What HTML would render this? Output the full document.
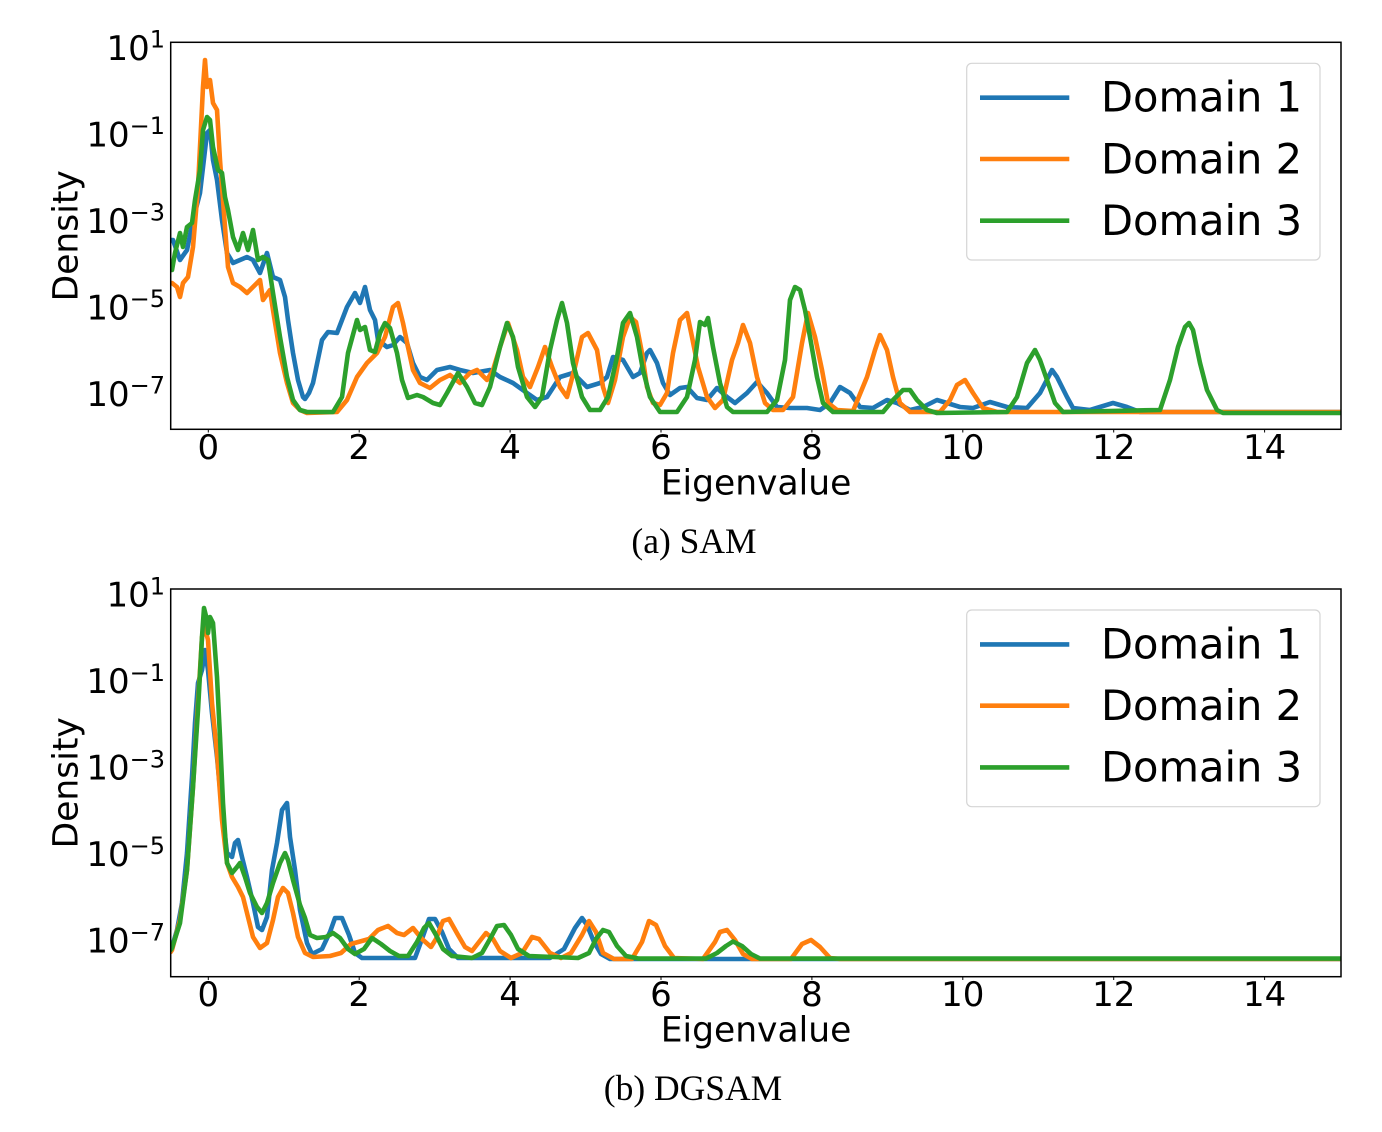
<!DOCTYPE html>
<html>
<head>
<meta charset="utf-8">
<style>
html,body{margin:0;padding:0;background:#fff;}
svg{display:block;}
.t{font-family:"DejaVu Sans","Liberation Sans",sans-serif;fill:#000;}
.cap{font-family:"Liberation Serif","DejaVu Serif",serif;fill:#000;}
.ln{fill:none;stroke-width:4.6;stroke-linejoin:round;stroke-linecap:round;}
</style>
</head>
<body>
<svg width="1382" height="1132" viewBox="0 0 1382 1132" xmlns="http://www.w3.org/2000/svg">
<rect x="0" y="0" width="1382" height="1132" fill="#fff"/>
<defs>
<clipPath id="c1"><rect x="170.7" y="42.3" width="1170.3" height="387"/></clipPath>
<clipPath id="c2"><rect x="170.7" y="589" width="1170.3" height="387.7"/></clipPath>
</defs>

<!-- ================= TOP PLOT ================= -->
<g clip-path="url(#c1)">
<polyline class="ln" stroke="#1f77b4" points="170.7,240 173,240 180,260 187,250 193,220 200,193 207,133 210,130 213,160 217,180 222,220 227,253 233,263 240,260 247,257 253,260 260,273 267,253 273,277 280,280 285,297 288,320 293,353 298,380 303,397 305,399 309,393 313,383 322,340 328,332 337,333 347,307 355,293 360,303 365,287 370,310 375,320 378,340 387,347 393,345 400,337 407,343 413,363 420,377 427,380 437,370 450,367 460,370 473,373 490,370 500,377 513,383 527,393 537,400 547,397 560,377 573,373 587,387 600,383 607,377 613,357 623,360 633,377 640,373 647,353 650,350 657,363 663,383 670,395 680,388 687,387 697,398 707,400 717,388 727,397 735,403 747,393 757,382 767,393 777,407 790,408 807,408 820,410 830,403 840,387 850,393 860,407 873,408 887,400 897,403 910,410 923,407 937,400 947,403 960,407 973,408 990,402 1007,407 1027,408 1040,393 1052,370 1057,377 1067,397 1073,408 1090,410 1113,403 1127,407 1140,412 1341,412"/>
<polyline class="ln" stroke="#ff7f0e" points="170.7,283 172,283 177,287 180,297 183,283 188,277 193,247 198,187 203,87 205,60 207,87 210,80 213,103 217,110 220,160 225,227 228,267 233,283 240,287 247,293 253,287 260,280 263,300 270,290 273,310 280,353 287,383 293,403 300,410 307,413 337,412 347,400 357,377 367,363 377,353 385,337 393,307 398,303 403,323 408,347 413,370 420,383 430,388 440,380 450,375 460,383 470,373 477,370 487,380 493,370 500,347 508,323 517,350 523,377 530,387 538,367 545,347 552,367 560,387 567,397 575,367 582,337 588,333 597,350 603,387 608,403 615,380 623,337 630,317 636,322 642,353 647,387 653,403 660,405 667,393 673,353 680,320 687,313 692,337 698,367 707,397 715,408 723,400 732,360 738,343 743,325 750,343 757,377 765,403 773,410 783,410 793,397 802,343 808,313 815,337 822,370 828,403 837,410 853,411 867,377 875,350 880,335 887,350 893,377 900,403 910,412 940,412 950,400 957,385 965,380 973,393 983,408 997,412 1341,412"/>
<polyline class="ln" stroke="#2ca02c" points="170.7,270 172,270 175,253 180,233 183,247 187,227 192,223 195,200 200,170 203,130 207,117 210,120 213,147 218,170 222,173 225,197 228,210 233,237 238,250 243,233 248,250 253,230 258,260 263,257 268,260 273,293 280,337 287,377 293,400 300,410 307,412 333,412 342,397 348,353 357,320 360,330 365,327 370,350 375,352 380,333 385,323 390,328 397,353 402,380 408,398 417,395 423,397 433,403 440,405 447,393 458,373 467,387 475,403 482,405 490,387 500,347 507,323 513,337 518,367 527,397 535,407 542,397 550,350 557,320 562,303 567,323 573,363 582,397 590,410 600,410 608,397 617,357 623,323 630,313 637,337 643,370 650,397 660,412 677,412 687,397 695,360 700,322 705,325 708,318 713,347 720,383 727,407 733,412 767,412 777,400 785,360 790,300 795,287 800,290 805,310 810,337 817,377 823,403 833,412 883,412 893,400 903,390 910,390 917,400 927,410 937,413 1007,412 1017,397 1027,363 1035,350 1040,360 1047,380 1055,403 1063,412 1160,410 1170,380 1178,347 1185,327 1189,323 1193,330 1200,363 1207,390 1217,410 1223,413 1341,413"/>
</g>
<rect x="170.7" y="42.3" width="1170.3" height="387" fill="none" stroke="#000" stroke-width="1.5"/>
<g stroke="#000" stroke-width="1">
<line x1="208.3" y1="429.3" x2="208.3" y2="432.5"/><line x1="359.2" y1="429.3" x2="359.2" y2="432.5"/><line x1="510.1" y1="429.3" x2="510.1" y2="432.5"/><line x1="661" y1="429.3" x2="661" y2="432.5"/><line x1="811.9" y1="429.3" x2="811.9" y2="432.5"/><line x1="962.8" y1="429.3" x2="962.8" y2="432.5"/><line x1="1113.7" y1="429.3" x2="1113.7" y2="432.5"/><line x1="1264.6" y1="429.3" x2="1264.6" y2="432.5"/>
</g>
<g class="t" font-size="34" text-anchor="middle">
<text x="208.3" y="459">0</text><text x="359.2" y="459">2</text><text x="510.1" y="459">4</text><text x="661" y="459">6</text><text x="811.9" y="459">8</text><text x="962.8" y="459">10</text><text x="1113.7" y="459">12</text><text x="1264.6" y="459">14</text>
</g>
<g class="t" font-size="34" text-anchor="end">
<text x="165" y="60">10<tspan font-size="24" dy="-12.3">1</tspan></text>
<text x="165" y="146.5">10<tspan font-size="24" dy="-12.3">−1</tspan></text>
<text x="165" y="233">10<tspan font-size="24" dy="-12.3">−3</tspan></text>
<text x="165" y="319.5">10<tspan font-size="24" dy="-12.3">−5</tspan></text>
<text x="165" y="406">10<tspan font-size="24" dy="-12.3">−7</tspan></text>
</g>
<text class="t" font-size="34.5" text-anchor="middle" x="756" y="494.5">Eigenvalue</text>
<text class="t" font-size="34.5" text-anchor="middle" transform="translate(77.7,235.8) rotate(-90)" x="0" y="0">Density</text>
<rect x="966.7" y="63.3" width="353.3" height="196.7" rx="5" ry="5" fill="#fff" fill-opacity="0.8" stroke="#d5d5d5" stroke-width="1.2"/>
<line x1="980" y1="97.7" x2="1069.3" y2="97.7" stroke="#1f77b4" stroke-width="4.6"/>
<line x1="980" y1="159" x2="1069.3" y2="159" stroke="#ff7f0e" stroke-width="4.6"/>
<line x1="980" y1="220.7" x2="1069.3" y2="220.7" stroke="#2ca02c" stroke-width="4.6"/>
<g class="t" font-size="41.6">
<text x="1101" y="111.7">Domain 1</text>
<text x="1101" y="173.3">Domain 2</text>
<text x="1101" y="235">Domain 3</text>
</g>
<text class="cap" font-size="35.5" text-anchor="middle" x="694" y="553">(a) SAM</text>

<!-- ================= BOTTOM PLOT ================= -->
<g clip-path="url(#c2)">
<polyline class="ln" stroke="#1f77b4" points="170.7,950 172,947 177,930 182,903 187,853 192,777 195,723 198,683 202,670 205,650 208,670 212,713 217,757 222,810 227,853 232,857 235,843 238,840 242,857 247,877 253,903 258,927 262,930 267,917 272,870 277,843 282,810 287,803 290,837 295,870 300,910 307,943 312,954 322,949 330,932 335,918 342,918 349,935 355,953 362,958 415,958 422,939 429,919 435,919 442,932 449,949 458,958 550,958 564,949 575,928 582,918 587,925 594,942 601,954 610,959 1341,959"/>
<polyline class="ln" stroke="#ff7f0e" points="170.7,952 172,950 180,920 187,870 193,787 198,703 202,637 205,628 208,640 212,703 217,753 222,820 227,863 232,877 238,887 243,897 248,917 253,937 260,948 267,943 273,920 278,897 283,888 288,893 293,913 298,937 305,953 313,957 330,956 341,953 351,944 369,939 378,930 388,926 397,933 404,935 413,928 422,939 431,947 436,939 443,921 449,919 458,935 465,947 472,951 479,942 486,933 493,939 500,951 511,958 522,953 532,937 539,939 550,953 561,958 571,953 582,935 589,921 596,932 603,953 614,959 632,959 642,942 649,921 656,925 665,946 674,958 703,959 715,942 720,932 727,930 735,940 743,954 752,959 791,959 802,944 811,940 820,947 830,958 840,959 1341,959"/>
<polyline class="ln" stroke="#2ca02c" points="170.7,950 172,948 180,923 187,870 193,787 198,710 202,637 204,608 207,620 208,633 210,617 213,623 217,677 220,737 223,803 227,863 232,873 237,867 240,863 245,877 250,893 257,907 262,913 267,903 273,883 280,863 285,853 288,860 293,880 300,905 305,918 310,935 317,938 326,937 333,933 340,938 348,949 355,954 364,949 372,938 381,944 390,951 399,956 408,956 417,942 424,928 429,923 436,935 443,949 452,956 472,958 482,953 490,939 497,926 504,925 511,935 518,949 529,956 578,958 589,953 596,939 603,930 609,932 617,946 626,956 639,958.6 706,958.6 717,953 726,946 733,941.5 742,946 751,954 760,958.6 1341,958.6"/>
</g>
<rect x="170.7" y="589" width="1170.3" height="387.7" fill="none" stroke="#000" stroke-width="1.5"/>
<g stroke="#000" stroke-width="1">
<line x1="208.3" y1="976.7" x2="208.3" y2="980"/><line x1="359.2" y1="976.7" x2="359.2" y2="980"/><line x1="510.1" y1="976.7" x2="510.1" y2="980"/><line x1="661" y1="976.7" x2="661" y2="980"/><line x1="811.9" y1="976.7" x2="811.9" y2="980"/><line x1="962.8" y1="976.7" x2="962.8" y2="980"/><line x1="1113.7" y1="976.7" x2="1113.7" y2="980"/><line x1="1264.6" y1="976.7" x2="1264.6" y2="980"/>
</g>
<g class="t" font-size="34" text-anchor="middle">
<text x="208.3" y="1006">0</text><text x="359.2" y="1006">2</text><text x="510.1" y="1006">4</text><text x="661" y="1006">6</text><text x="811.9" y="1006">8</text><text x="962.8" y="1006">10</text><text x="1113.7" y="1006">12</text><text x="1264.6" y="1006">14</text>
</g>
<g class="t" font-size="34" text-anchor="end">
<text x="165" y="606.7">10<tspan font-size="24" dy="-12.3">1</tspan></text>
<text x="165" y="693.2">10<tspan font-size="24" dy="-12.3">−1</tspan></text>
<text x="165" y="779.7">10<tspan font-size="24" dy="-12.3">−3</tspan></text>
<text x="165" y="866.2">10<tspan font-size="24" dy="-12.3">−5</tspan></text>
<text x="165" y="952.7">10<tspan font-size="24" dy="-12.3">−7</tspan></text>
</g>
<text class="t" font-size="34.5" text-anchor="middle" x="756" y="1041.5">Eigenvalue</text>
<text class="t" font-size="34.5" text-anchor="middle" transform="translate(77.7,782.8) rotate(-90)" x="0" y="0">Density</text>
<rect x="966.7" y="610" width="353.3" height="196.7" rx="5" ry="5" fill="#fff" fill-opacity="0.8" stroke="#d5d5d5" stroke-width="1.2"/>
<line x1="980" y1="644.4" x2="1069.3" y2="644.4" stroke="#1f77b4" stroke-width="4.6"/>
<line x1="980" y1="705.7" x2="1069.3" y2="705.7" stroke="#ff7f0e" stroke-width="4.6"/>
<line x1="980" y1="767.4" x2="1069.3" y2="767.4" stroke="#2ca02c" stroke-width="4.6"/>
<g class="t" font-size="41.6">
<text x="1101" y="658.4">Domain 1</text>
<text x="1101" y="720">Domain 2</text>
<text x="1101" y="781.7">Domain 3</text>
</g>
<text class="cap" font-size="35.5" text-anchor="middle" x="693" y="1100">(b) DGSAM</text>
</svg>
</body>
</html>
